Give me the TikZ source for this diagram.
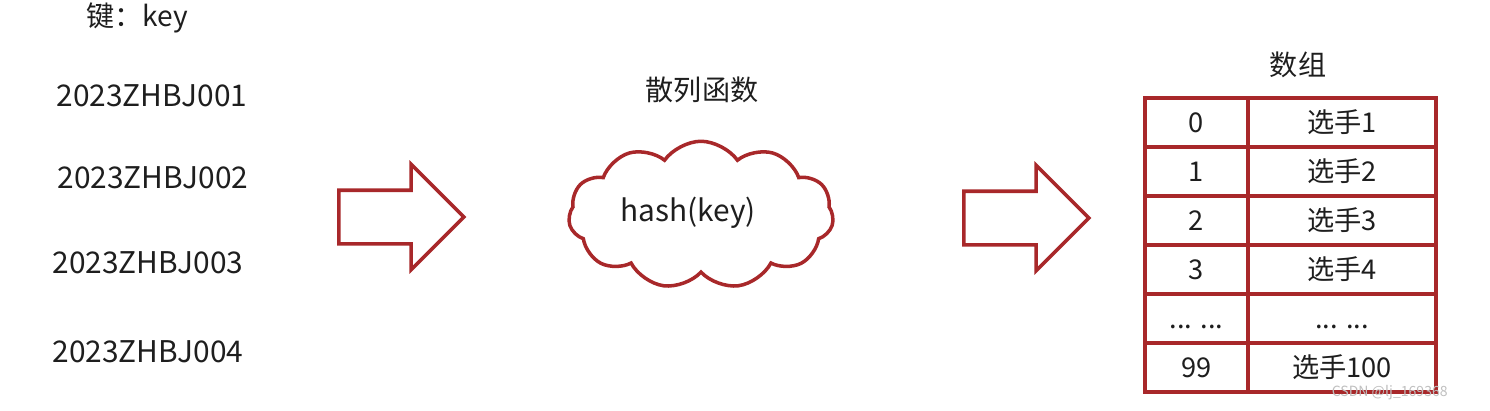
\documentclass[tikz,border=0pt]{standalone}
\usepackage{fontspec}
\setmainfont{Noto Sans CJK SC}
\usepackage{tikz}
\usetikzlibrary{shapes,positioning}
\definecolor{hred}{RGB}{168,40,42}
\definecolor{ink}{RGB}{30,30,30}
\tikzset{cell/.style={rectangle,draw=hred,line width=2pt,minimum height=0.98cm,inner sep=0pt,text height=0.5cm,text depth=0.1cm,text=ink,font=\fontsize{15.5pt}{17pt}\selectfont}}
\tikzset{blk/.style={single arrow,draw=hred,line width=2pt,minimum height=2.5cm,single arrow head extend=0.52cm,single arrow tip angle=90,inner xsep=0pt,inner ysep=0.5cm}}
\tikzset{puff/.style={cloud,draw=hred,line width=2pt,cloud puffs=11,cloud puff arc=110,aspect=1.8,minimum width=5.3cm,minimum height=2.95cm,inner sep=0pt}}
\tikzset{lbl/.style={text=ink,inner sep=0pt,font=\fontsize{17pt}{20pt}\selectfont}}

\begin{document}
\begin{tikzpicture}[x=0.02cm,y=-0.02cm]
    \useasboundingbox (0,0) rectangle (1490,410);

    \node[lbl,font=\fontsize{16pt}{19pt}\selectfont] (t)at (137,18) {键：key};
    \node[lbl] (k1)at (152,96) {2023ZHBJ001};
    \node[lbl] (k2)at (153,178) {2023ZHBJ002};
    \node[lbl] (k3)at (148,263) {2023ZHBJ003};
    \node[lbl] (k4)at (148,352) {2023ZHBJ004};

    \node[blk] (a1)at (388,217) {};

    \node[lbl,font=\fontsize{16pt}{19pt}\selectfont] (f)at (702,90) {散列函数};
    \node[puff] (h)at (701,215) {};
    \node[lbl] at (688,213) {hash(key)};

    \node[blk] (a2)at (1013,218) {};

    \node[lbl,font=\fontsize{16pt}{19pt}\selectfont] (s)at (1298,65) {数组};
    \node[cell,minimum width=2.06cm] (i0)at (1196.5,122.5) {0};
    \node[cell,minimum width=3.76cm] (v0)at (1342,122.5) {选手1};
    \node[cell,minimum width=2.06cm] (i1)at (1196.5,171.5) {1};
    \node[cell,minimum width=3.76cm] (v1)at (1342,171.5) {选手2};
    \node[cell,minimum width=2.06cm] (i2)at (1196.5,220.5) {2};
    \node[cell,minimum width=3.76cm] (v2)at (1342,220.5) {选手3};
    \node[cell,minimum width=2.06cm] (i3)at (1196.5,269.5) {3};
    \node[cell,minimum width=3.76cm] (v3)at (1342,269.5) {选手4};
    \node[cell,minimum width=2.06cm] (i4)at (1196.5,318.5) {... ...};
    \node[cell,minimum width=3.76cm] (v4)at (1342,318.5) {... ...};
    \node[cell,minimum width=2.06cm] (i5)at (1196.5,367.5) {99};
    \node[cell,minimum width=3.76cm] (v5)at (1342,367.5) {选手100};

    \node[text=black!25,inner sep=0pt,anchor=east,font=\fontsize{8pt}{9pt}\selectfont] (w)at (1448,393) {CSDN @lj\_169368};
\end{tikzpicture}
\end{document}
